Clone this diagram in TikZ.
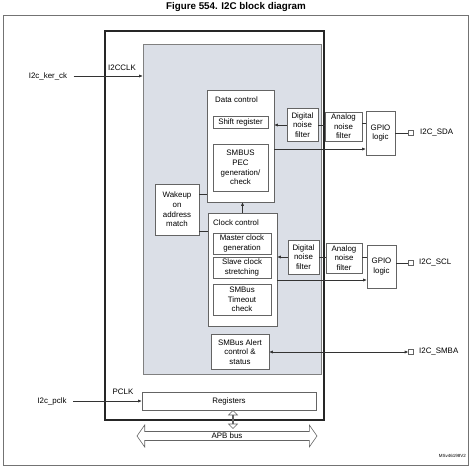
\documentclass[tikz,border=0pt]{standalone}
\usepackage{fontspec}
\setmainfont{Liberation Sans}
\usetikzlibrary{arrows.meta,shapes.arrows}
\definecolor{panelgray}{RGB}{219,223,231}
\definecolor{edgegray}{RGB}{100,100,100}

\begin{document}
\begin{tikzpicture}[x=1pt, y=-1pt,
		font=\fontsize{7.9}{9.6}\selectfont,
		blk/.style={draw=edgegray, fill=white, line width=.6pt, align=center, inner sep=0pt},
		pin/.style={draw=edgegray, fill=white, line width=.6pt, minimum size=5pt, inner sep=0pt},
		arr/.style={-{Latex[length=3.5pt,width=3.2pt]}},
		wire/.style={draw=black!80, line width=.6pt}]
		\useasboundingbox (0,0) rectangle (474,472);
		
		\node[font=\bfseries\fontsize{9.8}{11}\selectfont] (title) at (236,7) {Figure 554. I2C block diagram};
		\draw[draw=black!55, line width=.7pt] (3,15) rectangle (468,465);
		
		\node[draw=black!85, line width=1.2pt, minimum width=219pt, minimum height=389pt] (chip) at (214.5,225.5) {};
		\node[draw=black!50, fill=panelgray, line width=.7pt, minimum width=178pt, minimum height=330pt] (core) at (232,209) {};
		
		% data path
		\node[blk, minimum width=67pt, minimum height=112pt] (datactl) at (240.5,146) {};
		\node[anchor=west, inner sep=0pt] (datatitle) at (215,100) {Data control};
		\node[blk, minimum width=55pt, minimum height=12pt] (shiftreg) at (240.5,122) {Shift register};
		\node[blk, minimum width=55pt, minimum height=47pt] (pec) at (240.5,167.5) {SMBUS\\PEC\\generation/\\check};
		\node[blk, minimum width=31pt, minimum height=33pt] (dig1) at (302.5,125) {Digital\\noise\\filter};
		\node[blk, minimum width=37pt, minimum height=29pt] (ana1) at (343.5,126.5) {Analog\\noise\\filter};
		\node[blk, minimum width=29pt, minimum height=44pt] (gpio1) at (380.5,133) {GPIO\\logic};
		\node[pin] (sda) at (411,133) {};
		\node[anchor=west, inner sep=0pt] (sdalbl) at (420,133) {I2C\_SDA};
		
		\node[blk, minimum width=44pt, minimum height=51pt] (wake) at (177,209.5) {Wakeup\\on\\address\\match};
		
		% clock path
		\node[blk, minimum width=69pt, minimum height=113pt] (clockctl) at (242.5,269.5) {};
		\node[anchor=west, inner sep=0pt] (clocktitle) at (213,223) {Clock control};
		\node[blk, minimum width=58pt, minimum height=21pt] (master) at (242,243.5) {Master clock\\generation};
		\node[blk, minimum width=58pt, minimum height=21pt] (slave) at (242,267.5) {Slave clock\\stretching};
		\node[blk, minimum width=58pt, minimum height=31pt] (timeout) at (242,299.5) {SMBus\\Timeout\\check};
		\node[blk, minimum width=31pt, minimum height=34pt] (dig2) at (303.5,257) {Digital\\noise\\filter};
		\node[blk, minimum width=36pt, minimum height=30pt] (ana2) at (344,258) {Analog\\noise\\filter};
		\node[blk, minimum width=29pt, minimum height=43pt] (gpio2) at (381.5,266.5) {GPIO\\logic};
		\node[pin] (scl) at (411,263) {};
		\node[anchor=west, inner sep=0pt] (scllbl) at (419,263) {I2C\_SCL};
		
		\node[blk, minimum width=58pt, minimum height=35pt] (alert) at (240,352) {SMBus Alert\\control \&\\status};
		\node[pin] (smba) at (411,352) {};
		\node[anchor=west, inner sep=0pt] (smbalbl) at (419,352) {I2C\_SMBA};
		
		% clocks and bus
		\node (kerck) at (48,76) {I2c\_ker\_ck};
		\node (i2cclk) at (122,68) {I2CCLK};
		\node (pclkin) at (52,401) {I2c\_pclk};
		\node (pclk) at (123,392) {PCLK};
		\node[blk, minimum width=174pt, minimum height=18pt] (regs) at (229,401) {Registers};
		\node[draw=edgegray, fill=white, line width=.6pt, double arrow, double arrow head extend=6pt,
			double arrow tip angle=110, minimum height=180pt, minimum width=22pt, inner sep=1pt] (apb) at (227,436) {APB bus};
		\node[draw=edgegray, fill=white, line width=.6pt, double arrow, rotate=90, double arrow head extend=2.5pt,
			minimum height=18pt, minimum width=9pt, inner sep=0pt] (regbus) at (233,419.5) {};
		
		\node[anchor=east, inner sep=0pt, font=\fontsize{4.5}{5}\selectfont] (msv) at (466,456) {MSv46198V2};
		
		%========================================================================
		% Arrows
		\draw[wire, arr] (dig1.west) to (dig1.west -| datactl.east);
		\draw[wire] (dig1.east) to (dig1.east -| ana1.west);
		\draw[wire] ([yshift=3.5pt]ana1.east) to ([yshift=3.5pt]ana1.east -| gpio1.west);
		\draw[wire] (gpio1.east |- sda.west) to (sda.west);
		\draw[wire, arr] ([yshift=-3pt]datactl.east) to ([yshift=-3pt]datactl.east -| gpio1.west);
		
		\draw[wire] ([yshift=15.5pt]wake.east) to ([yshift=15.5pt]wake.east -| datactl.west);
		\draw[wire] ([yshift=-21.5pt]wake.east) to ([yshift=-21.5pt]wake.east -| clockctl.west);
		\draw[wire, arr] (clockctl.north) to (clockctl.north |- datactl.south);
		
		\draw[wire, arr] (dig2.west) to (dig2.west -| clockctl.east);
		\draw[wire] (dig2.east) to (dig2.east -| ana2.west);
		\draw[wire] (dig2.east -| ana2.east) to (dig2.east -| gpio2.west);
		\draw[wire] (gpio2.east |- scl.west) to (scl.west);
		\draw[wire, arr] ([yshift=-10.5pt]clockctl.east) to ([yshift=-10.5pt]clockctl.east -| gpio2.west);
		
		\draw[wire, {Latex[length=3.5pt,width=3.2pt]}-{Latex[length=3.5pt,width=3.2pt]}] (alert.east) to (smba.west);
		
		\draw[wire, arr, shorten <=3pt] (kerck.east) to (kerck.east -| core.west);
		\draw[wire, arr, shorten <=3pt] (pclkin.east) to (pclkin.east -| regs.west);
	\end{tikzpicture}
\end{document}
